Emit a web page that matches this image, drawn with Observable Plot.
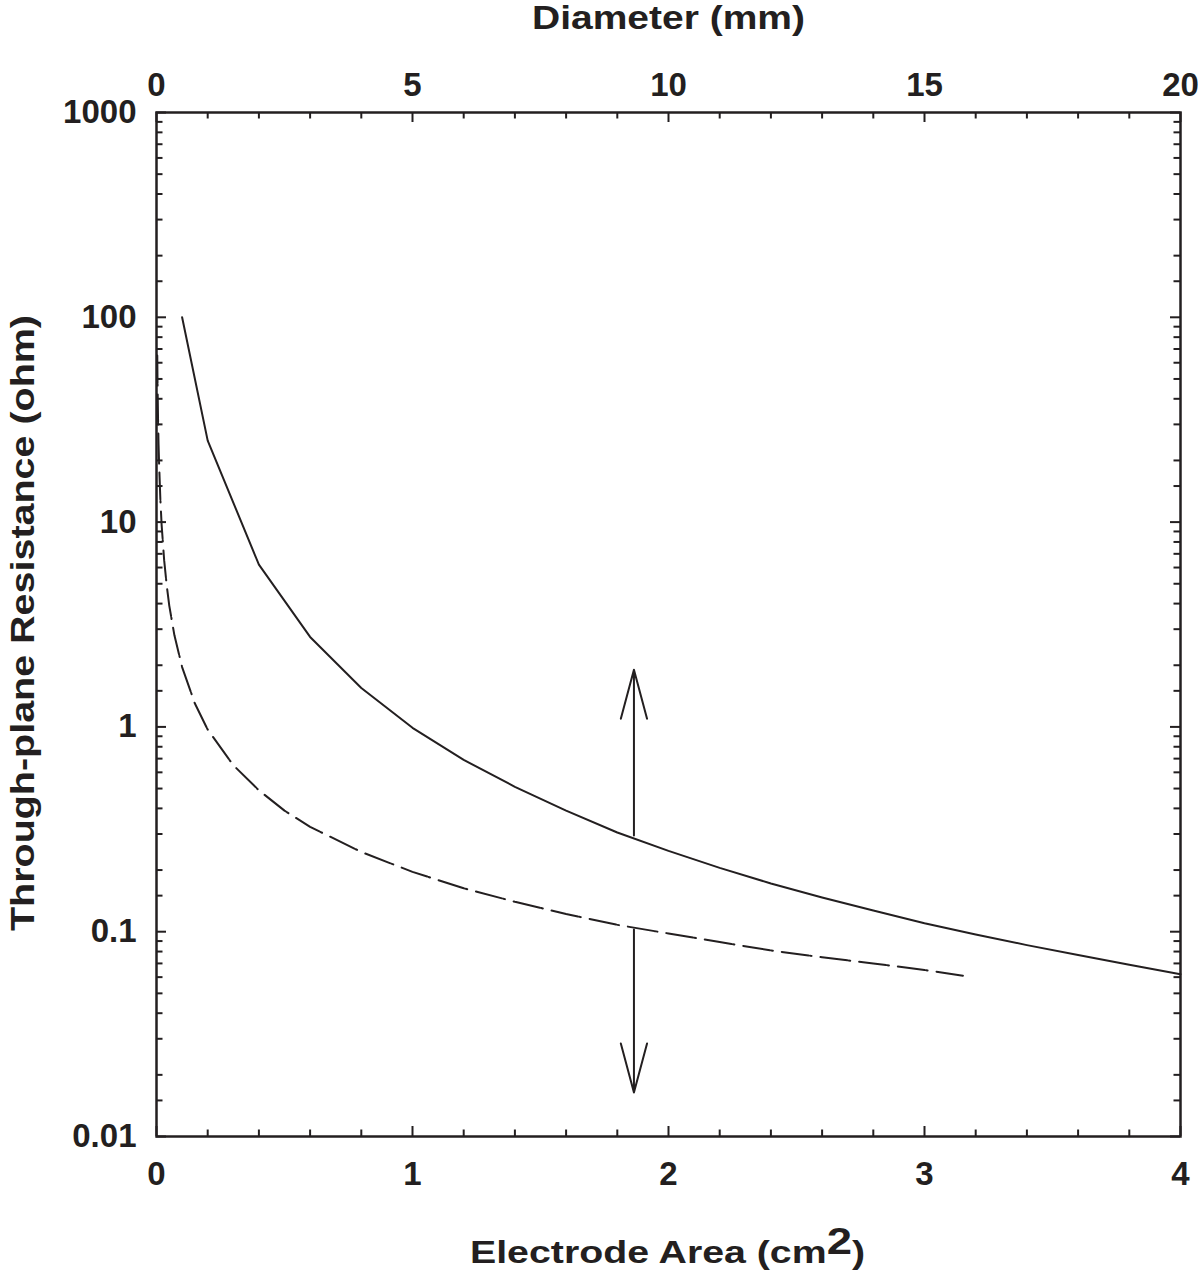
<!DOCTYPE html>
<html><head><meta charset="utf-8">
<script src="https://cdn.jsdelivr.net/npm/d3@7"></script>
<script src="https://cdn.jsdelivr.net/npm/@observablehq/plot@0.6"></script>
<style>body{margin:0;background:#fff} svg{display:block}</style>
</head><body><div id="chart"></div>
<script>
// ---- tick definitions ----
const areaTicks = [0, 1, 2, 3, 4];
const areaTickLabels = ["0", "1", "2", "3", "4"];
const areaMinorTicks = [0.2, 0.4, 0.6, 0.8, 1.2, 1.4, 1.6, 1.8, 2.2, 2.4, 2.6, 2.8, 3.2, 3.4, 3.6, 3.8];
const diameterTickPos = [0, 1, 2, 3, 4];          // positions on the area axis
const diameterTickLabels = ["0", "5", "10", "15", "20"];
const resistanceTicks = [0.01, 0.1, 1, 10, 100, 1000];
const resistanceTickLabels = ["0.01", "0.1", "1", "10", "100", "1000"];
const logMinorMultipliers = [1.5, 2, 3, 4, 5, 6, 7, 8, 9];

// ---- series ----
const solidArea = [0.1, 0.2, 0.4, 0.6, 0.8, 1.0, 1.2, 1.4, 1.6, 1.8, 2.0, 2.2, 2.4, 2.6, 2.8, 3.0, 3.2, 3.4, 3.6, 3.8, 4.0];
const solidResistance = [100, 25, 6.2, 2.75, 1.55, 0.99, 0.69, 0.51, 0.39, 0.305, 0.248, 0.205, 0.172, 0.147, 0.127, 0.11, 0.097, 0.086, 0.077, 0.069, 0.062];

const dashedArea = [0.003, 0.004, 0.006, 0.008, 0.01, 0.015, 0.02, 0.03, 0.04, 0.05, 0.07, 0.1, 0.15, 0.2, 0.3, 0.4, 0.5, 0.6, 0.8, 1.0, 1.2, 1.4, 1.6, 1.8, 2.0, 2.2, 2.4, 2.6, 2.8, 3.0, 3.15];
const dashedResistance = [65, 48, 32, 24, 19.5, 13, 9.7, 6.5, 4.9, 3.9, 2.8, 1.96, 1.3, 0.97, 0.65, 0.49, 0.39, 0.325, 0.245, 0.196, 0.163, 0.14, 0.122, 0.108, 0.098, 0.089, 0.081, 0.075, 0.07, 0.065, 0.061];

// ---- arrows ----
const arrowArea = [1.865, 1.865];
const arrowFrom = [0.295, 0.1025];
const arrowTo = [1.9, 0.0164];

// ---- build tables ----
const solid = solidArea.map((a, i) => ({a, r: solidResistance[i]}));
const dashed = dashedArea.map((a, i) => ({a, r: dashedResistance[i]}));
const arrows = arrowArea.map((a, i) => ({a, r1: arrowFrom[i], r2: arrowTo[i]}));
const logMinor = resistanceTicks.slice(0, -1).flatMap(d => logMinorMultipliers.map(m => +(d * m).toPrecision(3)));

const W = 1198, H = 1280, ML = 156, MR = 18, MT = 112, MB = 144;
const FW = W - ML - MR, FH = H - MT - MB;
const ink = "#231f20";
const majorLen = 10, minorLen = 6.5, tickW = 2;
const fam = "'Liberation Sans', Arial, Helvetica, sans-serif";

const chart = Plot.plot({
  width: W, height: H,
  marginLeft: ML, marginRight: MR, marginTop: MT, marginBottom: MB,
  x: {domain: [0, 4]},
  y: {type: "log", domain: [0.01, 1000]},
  style: {fontFamily: fam, fontWeight: "bold", fontSize: "33px", color: ink, background: "#fff"},
  marks: [
    // tick labels
    Plot.axisX({anchor: "bottom", ticks: areaTicks, tickSize: 0, tickPadding: 25.5, label: null,
      tickFormat: d => areaTickLabels[areaTicks.indexOf(d)]}),
    Plot.axisX({anchor: "top", ticks: diameterTickPos, tickSize: 0, tickPadding: 17, label: null,
      tickFormat: d => diameterTickLabels[diameterTickPos.indexOf(d)]}),
    Plot.axisY({anchor: "left", ticks: resistanceTicks, tickSize: 0, tickPadding: 20, label: null,
      tickFormat: d => resistanceTickLabels[resistanceTicks.indexOf(d)]}),
    // inward ticks: bottom & top
    Plot.ruleX(areaTicks, {insetTop: FH - majorLen, strokeWidth: tickW, stroke: ink}),
    Plot.ruleX(areaMinorTicks, {insetTop: FH - minorLen, strokeWidth: tickW, stroke: ink}),
    Plot.ruleX(diameterTickPos, {insetBottom: FH - majorLen, strokeWidth: tickW, stroke: ink}),
    Plot.ruleX(areaMinorTicks, {insetBottom: FH - minorLen, strokeWidth: tickW, stroke: ink}),
    // inward ticks: left & right
    Plot.ruleY(resistanceTicks, {insetRight: FW - majorLen, strokeWidth: tickW, stroke: ink}),
    Plot.ruleY(logMinor, {insetRight: FW - minorLen, strokeWidth: tickW, stroke: ink}),
    Plot.ruleY(resistanceTicks, {insetLeft: FW - majorLen, strokeWidth: tickW, stroke: ink}),
    Plot.ruleY(logMinor, {insetLeft: FW - minorLen, strokeWidth: tickW, stroke: ink}),
    // curves
    Plot.line(solid, {x: "a", y: "r", stroke: ink, strokeWidth: 2}),
    Plot.line(dashed, {x: "a", y: "r", stroke: ink, strokeWidth: 2, strokeDasharray: "27 1.5 1.5 9"}),
    // arrows
    Plot.arrow(arrows, {x1: "a", y1: "r1", x2: "a", y2: "r2", stroke: ink, strokeWidth: 2, headAngle: 30, headLength: 38}),
    Plot.frame({stroke: ink, strokeWidth: 2.5})
  ]
});

const svg = d3.select(chart);
svg.append("text")
  .attr("x", 532).attr("y", 29)
  .attr("text-anchor", "start")
  .attr("font-family", fam).attr("font-weight", "bold").attr("font-size", 33)
  .attr("textLength", 273).attr("lengthAdjust", "spacingAndGlyphs").attr("fill", ink)
  .text("Diameter (mm)");

const xl = svg.append("text")
  .attr("x", 470).attr("y", 1263)
  .attr("text-anchor", "start")
  .attr("font-family", fam).attr("font-weight", "bold").attr("font-size", 32)
  .attr("textLength", 395).attr("lengthAdjust", "spacingAndGlyphs").attr("fill", ink);
xl.append("tspan").text("Electrode Area (cm");
xl.append("tspan").attr("font-size", 37).attr("dy", -9).text("2");
xl.append("tspan").attr("dy", 9).text(")");

svg.append("text")
  .attr("transform", "translate(34,931) rotate(-90)")
  .attr("text-anchor", "start")
  .attr("font-family", fam).attr("font-weight", "bold").attr("font-size", 33)
  .attr("textLength", 616).attr("lengthAdjust", "spacingAndGlyphs").attr("fill", ink)
  .text("Through-plane Resistance (ohm)");

document.getElementById("chart").appendChild(chart);
</script>
</body></html>
